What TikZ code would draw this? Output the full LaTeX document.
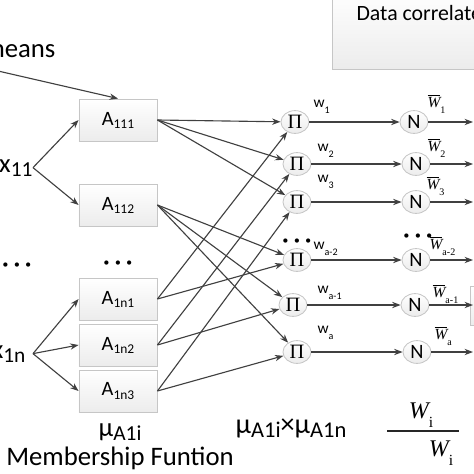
\documentclass[tikz,border=0pt]{standalone}
\usepackage{fontspec}
\setmainfont{Carlito}
\newfontfamily\timesf{Liberation Serif}
\usetikzlibrary{arrows.meta,shapes.geometric}
\newcommand{\lsub}[2][0.8]{\raisebox{-0.15em}{\scalebox{#1}{#2}}}
\newcommand{\dsub}[1]{\raisebox{-0.35em}{\scalebox{0.65}{#1}}}
\newcommand{\tdots}{{\fontsize{7.5}{7.5}\selectfont$\bullet$\hspace{4pt}$\bullet$\hspace{4pt}$\bullet$}}
\newcommand{\wbar}[1]{$\overline{\hbox{\timesf\itshape W}}$\dsub{\timesf #1}}

\begin{document}
\begin{tikzpicture}[x=0.025cm, y=-0.025cm, line width=0.8pt,
    >={Stealth[length=6pt,width=4.5pt]},
    arr/.style={->, draw=black!75},
    mf/.style={rectangle, draw=gray!45, line width=0.6pt, top color=white, bottom color=gray!15, minimum width=1.95cm, minimum height=1.05cm, inner sep=0pt, font=\fontsize{14.5}{14.5}\selectfont},
    op/.style={ellipse, draw=gray!45, line width=0.6pt, top color=white, bottom color=gray!15, minimum width=0.7cm, minimum height=0.57cm, inner sep=0pt},
    big/.style={inner sep=0pt, font=\fontsize{19}{20}\selectfont},
    wlab/.style={inner sep=0pt, anchor=west, font=\fontsize{11}{11}\selectfont},
    wn/.style={inner sep=0pt, anchor=west, font=\fontsize{11}{11}\selectfont}
]
\useasboundingbox (0,0) rectangle (474,474);

% Data box, top right
\node[mf, anchor=north west, minimum width=4cm, minimum height=2cm] (dbox) at (332,-11) {};
\node[anchor=base west, inner sep=0pt, font=\fontsize{15.5}{15.5}\selectfont] (dtxt) at (356,20) {Data correlated};
\node[mf, anchor=north west, minimum width=0.5cm, minimum height=0.98cm] (rbox) at (470,286) {};

% Inputs
\node[big, anchor=base east] (km) at (56,57) {means};
\coordinate (kin) at (-2,71);
\node[big, anchor=base east] (x11) at (33,172) {x\lsub{11}};
\node[big, anchor=base east, inner xsep=5pt] (x1n) at (33,358) {x\lsub{1n}};
\node (ld) at (17,265) {\tdots};

% Membership functions
\node[mf] (A111) at (118,120) {A\lsub[0.66]{111}};
\node[mf] (A112) at (118,205) {A\lsub[0.66]{112}};
\node (md) at (118,263) {\tdots};
\node[mf] (A1n1) at (118,299) {A\lsub[0.66]{1n1}};
\node[mf] (A1n2) at (118,345) {A\lsub[0.66]{1n2}};
\node[mf] (A1n3) at (118,391) {A\lsub[0.66]{1n3}};

% Rule and norm layers
\foreach \i/\y/\xp/\xn in {1/122/295/414, 2/164/297/416, 3/202/297/416, 4/260/297/416, 5/305/293/415, 6/352/297/417}{
    \node[op, font=\timesf\fontsize{14.5}{14.5}\selectfont] (P\i) at (\xp,\y) {Π};
    \node[op, font=\fontsize{14.5}{14.5}\selectfont] (N\i) at (\xn,\y) {N};
    \coordinate (o\i) at (473,\y);
}
\node (pd) at (297,241) {\tdots};
\node (nd) at (418,236) {\tdots};

% Weights
\node[wlab] (w1) at (313,107) {w\dsub{1}};
\node[wlab] (w2) at (317,151) {w\dsub{2}};
\node[wlab] (w3) at (317,182) {w\dsub{3}};
\node[wlab] (w4) at (313,249) {w\dsub{a-2}};
\node[wlab] (w5) at (317,293) {w\dsub{a-1}};
\node[wlab] (w6) at (317,333) {w\dsub{a}};
\node[wn] (v1) at (427,104) {\wbar{1}};
\node[wn] (v2) at (427,148) {\wbar{2}};
\node[wn] (v3) at (426,186) {\wbar{3}};
\node[wn] (v4) at (429,246) {\wbar{a-2}};
\node[wn] (v5) at (432,294) {\wbar{a-1}};
\node[wn] (v6) at (434,336) {\wbar{a}};

% Connections
\draw[arr] (kin) -- (A111.north);
\foreach \a in {A111, A112}
    \draw[arr] (x11.east) -- (\a.west);
\foreach \a in {A1n1, A1n2, A1n3}
    \draw[arr] (x1n.east) -- (\a.west);
\foreach \a/\p in {A111/1, A111/2, A111/3, A112/4, A112/5, A112/6, A1n1/1, A1n1/4, A1n2/2, A1n2/5, A1n3/3, A1n3/6}
    \draw[arr] (\a.east) -- (P\p);
\foreach \i in {1,...,6}{
    \draw[arr] (P\i) -- (N\i);
    \draw[arr] (N\i) -- (o\i);
}

% Bottom captions
\node[big] (mu) at (120,432) {μ\lsub{A1i}};
\node[big] (mft) at (120,458) {Membership Funtion};
\node[big, font=\fontsize{20}{20}\selectfont] (mup) at (291,428) {μ\lsub{A1i}×μ\lsub{A1n}};
\node[inner sep=0pt, font=\timesf\itshape\fontsize{17}{17}\selectfont] (num) at (421,415) {W\dsub{\upshape i}};
\node[inner sep=0pt, font=\timesf\itshape\fontsize{17}{17}\selectfont] (den) at (441,453) {W\dsub{\upshape i}};
\coordinate (fl) at (387,431);
\coordinate (fr) at (459,431);
\draw[line width=1.4pt, black!85] (fl) -- (fr);
\end{tikzpicture}
\end{document}
